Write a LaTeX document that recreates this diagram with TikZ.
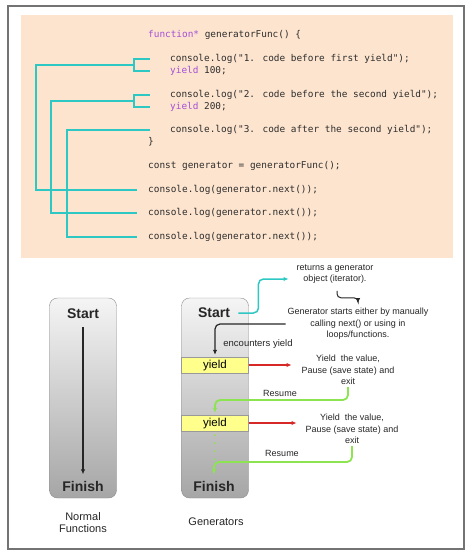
\documentclass[tikz,border=0pt]{standalone}
\usepackage{fontspec}
\setmainfont{Liberation Sans}
\newfontfamily\codefont{DejaVu Sans Mono}
\usetikzlibrary{arrows.meta}
\definecolor{peach}{RGB}{253,228,206}
\definecolor{codecyan}{RGB}{45,200,195}
\definecolor{kwpurple}{RGB}{165,80,215}
\definecolor{codegray}{RGB}{45,45,45}
\definecolor{resumegreen}{RGB}{140,228,80}
\definecolor{yieldyellow}{RGB}{255,255,140}
\definecolor{pausered}{RGB}{215,40,40}
\newcommand{\kw}[1]{\textcolor{kwpurple}{#1}}
\tikzset{
  codeline/.style={anchor=west,inner sep=0pt,text height=7pt,text depth=2pt,
    font=\codefont\fontsize{9.4}{11}\selectfont,text=codegray},
  cyanline/.style={draw=codecyan,line width=2pt},
  funcbox/.style={draw=black!45,rounded corners=8pt,top color=black!4,bottom color=black!35,
    minimum width=67pt,minimum height=200pt,inner sep=0pt},
  big/.style={font=\bfseries\fontsize{14}{16}\selectfont,text=black!85},
  caption/.style={font=\fontsize{11}{12}\selectfont,align=center,text=black!85},
  yieldband/.style={draw=black!40,fill=yieldyellow,minimum width=67pt,minimum height=16pt,
    inner sep=0pt,text height=8.5pt,text depth=1.5pt,font=\fontsize{11.5}{13}\selectfont},
  note/.style={font=\fontsize{9}{11.5}\selectfont,align=center,inner sep=2pt,text=black!85},
  tip/.style={-{Latex[length=5pt,width=4.5pt]}},
  blkarrow/.style={tip,draw=black!85,line width=1.2pt},
  cyanarrow/.style={tip,draw=codecyan,line width=1.5pt},
  redarrow/.style={tip,draw=pausered,line width=1.2pt},
  grnarrow/.style={tip,draw=resumegreen,line width=1.8pt}
}
\begin{document}
\begin{tikzpicture}[x=1pt,y=-1pt]
  \useasboundingbox (0,0) rectangle (474,557);
  \draw[draw=black!55,line width=1.5pt] (8,6) rectangle (464,549);
  %% code panel
  \fill[peach] (21,15) rectangle (453,258);
  \node[codeline] (fn) at (148,35) {\kw{function*} generatorFunc() \{};
  \node[codeline] (c1) at (170,59) {console.log("1. code before first yield");};
  \node[codeline] (y1) at (170,71) {\kw{yield} 100;};
  \node[codeline] (c2) at (170,95) {console.log("2. code before the second yield");};
  \node[codeline] (y2) at (170,107) {\kw{yield} 200;};
  \node[codeline] (c3) at (170,130) {console.log("3. code after the second yield");};
  \node[codeline] (cb) at (148,142) {\}};
  \node[codeline] (cg) at (148,166) {const generator = generatorFunc();};
  \node[codeline] (n1) at (148,190) {console.log(generator.next());};
  \node[codeline] (n2) at (148,213) {console.log(generator.next());};
  \node[codeline] (n3) at (148,237) {console.log(generator.next());};
  %% brackets
  \draw[cyanline] ([xshift=-20pt]c1.west) -- ++(-16,0) |- ([xshift=-20pt]y1.west);
  \draw[cyanline] ([xshift=-20pt]c2.west) -- ++(-16,0) |- ([xshift=-20pt]y2.west);
  \coordinate (k1) at (134,65);
  \coordinate (k2) at (134,101);
  \draw[cyanline] (k1) -| ([xshift=-112pt]n1.west) -- ([xshift=-11pt]n1.west);
  \draw[cyanline] (k2) -| ([xshift=-97pt]n2.west) -- ([xshift=-11pt]n2.west);
  \draw[cyanline] ([xshift=-20pt]c3.west) -| ([xshift=-81pt]n3.west) -- ([xshift=-11pt]n3.west);
  %% normal function
  \node[funcbox] (nbox) at (83,398) {};
  \node[big] (ns) at (83,314) {Start};
  \node[big] (nf) at (83,486) {Finish};
  \draw[blkarrow,shorten <=5pt,shorten >=3pt] (ns.south) -- (nf.north);
  \node[caption] (ncap) at (83,523) {Normal\\Functions};
  %% generator
  \node[funcbox] (gbox) at (215,398) {};
  \node[big] (gs) at (214,313) {Start};
  \node[big] (gf) at (214,486) {Finish};
  \node[yieldband] (yd1) at (215,365) {yield};
  \node[yieldband] (yd2) at (215,423) {yield};
  \node[caption] (gcap) at (216,522) {Generators};
  %% notes
  \node[note] (ret) at (335,274) {returns a generator\\object (iterator).};
  \node[note] (gst) at (358,324) {Generator starts either by manually\\calling next() or using in\\loops/functions.};
  \node[note,font=\fontsize{9.5}{11}\selectfont] (enc) at (258,344) {encounters yield};
  \node[note] (yv1) at (348,370) {Yield\ \ the value,\\Pause (save state) and\\exit};
  \node[note] (yv2) at (352,429) {Yield\ \ the value,\\Pause (save state) and\\exit};
  \node[note] (rs1) at (280,393) {Resume};
  \node[note] (rs2) at (282,453) {Resume};
  %% flow
  \draw[cyanarrow,rounded corners=5pt,shorten <=5pt,shorten >=6pt] (gs.east) -- ++(25,0) |- ([yshift=-5pt]ret.west);
  \draw[blkarrow,line width=1pt,rounded corners=4pt,shorten <=5pt,shorten >=3pt] ([xshift=2pt]ret.south) -- ++(0,12) -| (gst.north);
  \draw[blkarrow,rounded corners=5pt,shorten >=2pt] (gst.west) -| (yd1.north);
  \draw[redarrow,shorten >=8pt] (yd1.east) -- (yd1.east -| yv1.west);
  \draw[grnarrow,rounded corners=5pt,shorten >=2pt] (yv1.south) -- ++(0,13) -| (yd2.north);
  \draw[redarrow,shorten >=7pt] (yd2.east) -- (yd2.east -| yv2.west);
  \draw[grnarrow,rounded corners=5pt,shorten >=3pt] (yv2.south) -- ++(0,16) -| (gf.north);
  \draw[draw=resumegreen,line width=2pt,line cap=round,dash pattern=on 0pt off 8pt,shorten <=4pt,shorten >=12pt] (yd2.south) -- (gf.north);
\end{tikzpicture}
\end{document}
